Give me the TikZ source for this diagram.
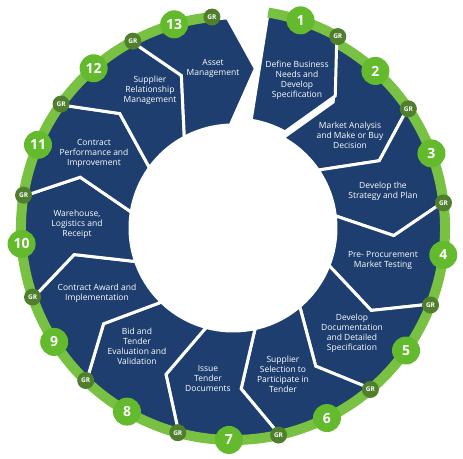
\documentclass[tikz,border=0pt]{standalone}
\usepackage{fontspec}
\setmainfont{Open Sans}
\usepackage{xcolor}

\definecolor{segnavy}{HTML}{1D3E6E}
\definecolor{ringgreen}{HTML}{79C142}
\definecolor{numgreen}{HTML}{63BA2C}
\definecolor{grgreen}{HTML}{4F7F2D}

\begin{document}
\begin{tikzpicture}[
			x=1pt, y=1pt,
			seg/.style={fill=segnavy, draw=white, line width=3pt, line join=miter},
			ring/.style={draw=ringgreen, line width=10pt},
			num/.style={circle, fill=numgreen, text=white, minimum size=28pt, inner sep=0pt, font=\fontsize{14}{14}\selectfont\bfseries},
			gr/.style={circle, fill=grgreen, text=white, minimum size=17pt, inner sep=0pt, font=\fontsize{6.5}{6.5}\selectfont\bfseries},
			lbl/.style={text=white, align=center, font=\fontsize{8.5}{10}\selectfont}
		]
			\useasboundingbox (-233,-230) rectangle (230,228);
			% segments 2 to 13
			\foreach \a/\b in {61/34.2, 34.2/6.8, 6.8/-21.3, -21.3/-49.6, -49.6/-77.6, -77.6/-105.1, -105.1/-134, -134/-161, -161/-188.9, -188.9/-215.8, -215.8/-241.8, -241.8/-268.5}
				\draw[seg] (\a:210) arc[start angle=\a, end angle=\b, radius=210] -- ({\b-9.5}:161) -- (\b:103) arc[start angle=\b, end angle=\a, radius=103] -- ({\a-9.5}:161) -- cycle;
			\draw[ring] (61:212) arc[start angle=61, end angle=-264.3, radius=212];
			% segment 1, pulled out a little
			\begin{scope}[shift={(2,6)}]
				\draw[seg] (81:210) arc[start angle=81, end angle=61, radius=210] -- (51.5:161) -- (61:103) arc[start angle=61, end angle=81, radius=103] -- cycle;
				\draw[ring] (81:212) arc[start angle=81, end angle=61, radius=212];
				\node[gr] (gr1) at (61:212) {GR};
				\node[num] (n1) at (72:212) {1};
			\end{scope}
			\foreach \g [count=\i from 2] in {34.2, 6.8, -21.3, -49.6, -77.6, -105.1, -134, -161, -188.9, -215.8, -241.8, -264.3}
				\node[gr] (gr\i) at (\g:212) {GR};
			\foreach \g [count=\i from 2] in {47.8, 20.6, -7.3, -35.3, -63.7, -91.1, -120, -147.5, -175.7, -203.1, -228.9, -253.9}
				\node[num] (n\i) at (\g:212) {\i};
			% labels
			\node[lbl] (t1) at (64,148) {Define Business\\Needs and\\Develop\\Specification};
			\node[lbl] (t2) at (117,93) {Market Analysis\\and Make or Buy\\Decision};
			\node[lbl] (t3) at (150,37) {Develop the\\Strategy and Plan};
			\node[lbl] (t4) at (150,-32) {Pre- Procurement\\Market Testing};
			\node[lbl] (t5) at (119,-105) {Develop\\Documentation\\and Detailed\\Specification};
			\node[lbl] (t6) at (50,-146) {Supplier\\Selection to\\Participate in\\Tender};
			\node[lbl] (t7) at (-25,-151) {Issue\\Tender\\Documents};
			\node[lbl] (t8) at (-96,-118) {Bid and\\Tender\\Evaluation and\\Validation};
			\node[lbl] (t9) at (-136,-65) {Contract Award and\\Implementation};
			\node[lbl] (t10) at (-156,4) {Warehouse,\\Logistics and\\Receipt};
			\node[lbl] (t11) at (-139,75) {Contract\\Performance and\\Improvement};
			\node[lbl] (t12) at (-83,138) {Supplier\\Relationship\\Management};
			\node[lbl] (t13) at (-20,160) {Asset\\Management};
		\end{tikzpicture}
\end{document}
